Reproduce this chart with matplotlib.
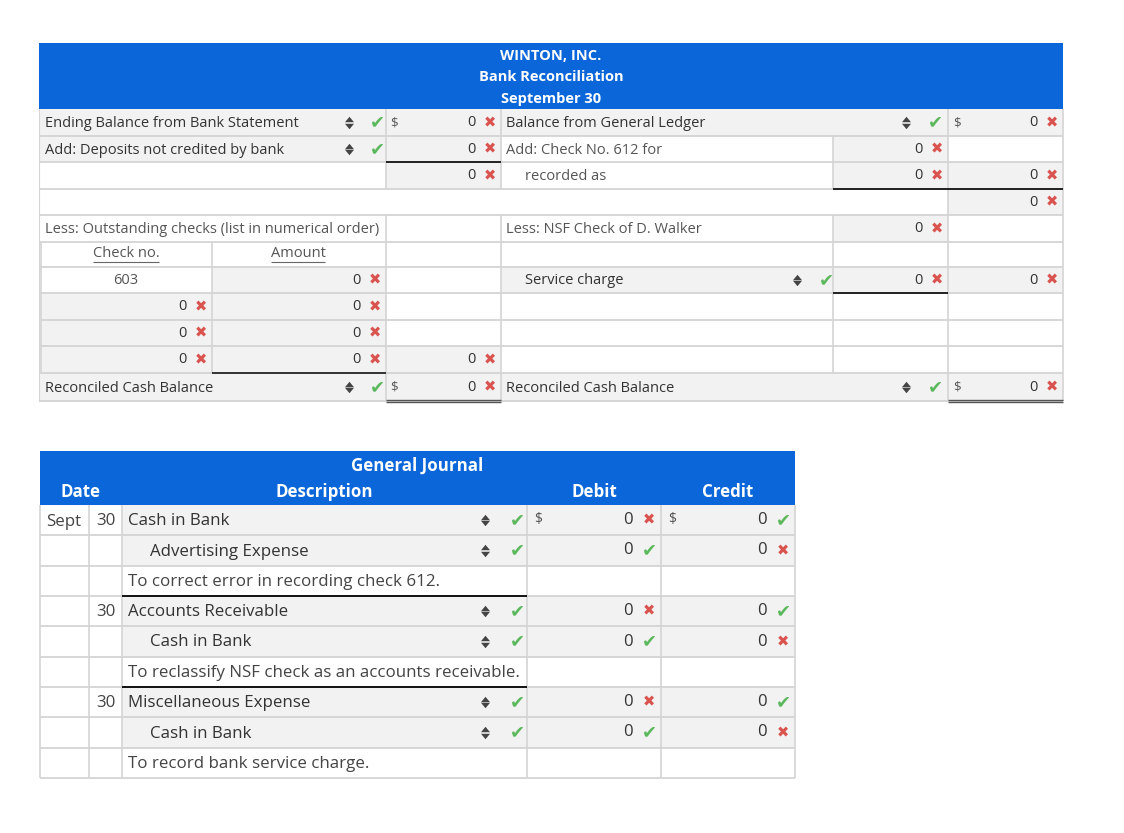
import matplotlib
matplotlib.use("Agg")
import matplotlib.pyplot as plt
from matplotlib.patches import Rectangle

plt.rcParams['font.family'] = ['Open Sans', 'DejaVu Sans']

BLUE = '#0a66d9'
GRAY = '#f2f2f2'
LINE = '#d4d4d4'
TEXT = '#333333'
GREEN = '#5cb85c'
RED = '#d9534f'

# ---- bank reconciliation content (one entry per row) ----
TITLE_LINES = ['WINTON, INC.', 'Bank Reconciliation', 'September 30']
LEFT_LABELS = ['Ending Balance from Bank Statement', 'Add: Deposits not credited by bank', '', '',
               'Less: Outstanding checks (list in numerical order)', '', '', '', '', '',
               'Reconciled Cash Balance']
LEFT_DROPDOWN = [True, True, False, False, False, False, False, False, False, False, True]
CHECK_NOS = [None, None, None, None, None, None, '603', 0, 0, 0, None]
AMOUNTS = [None, None, None, None, None, None, 0, 0, 0, 0, None]
LEFT_TOTALS = [0, 0, 0, None, None, None, None, None, None, 0, 0]
LEFT_DOLLAR = [True, False, False, False, False, False, False, False, False, False, True]
RIGHT_LABELS = ['Balance from General Ledger', 'Add: Check No. 612 for', 'recorded as', '',
                'Less: NSF Check of D. Walker', '', 'Service charge', '', '', '',
                'Reconciled Cash Balance']
RIGHT_INDENT = [False, False, True, False, False, False, True, False, False, False, False]
RIGHT_DROPDOWN = [True, False, False, False, False, False, True, False, False, False, True]
RIGHT_SUB = [None, 0, 0, None, 0, None, 0, None, None, None, None]
RIGHT_TOTALS = [0, None, 0, 0, None, None, 0, None, None, None, 0]
RIGHT_DOLLAR = [True, False, False, False, False, False, False, False, False, False, True]

# ---- general journal content ----
JOURNAL_TITLE = 'General Journal'
JOURNAL_HEADS = ['Date', 'Description', 'Debit', 'Credit']
J_MONTH = ['Sept', '', '', '', '', '', '', '', '']
J_DAY = ['30', '', '', '30', '', '', '30', '', '']
J_DESC = ['Cash in Bank', 'Advertising Expense', 'To correct error in recording check 612.',
          'Accounts Receivable', 'Cash in Bank', 'To reclassify NSF check as an accounts receivable.',
          'Miscellaneous Expense', 'Cash in Bank', 'To record bank service charge.']
J_INDENT = [False, True, False, False, True, False, False, True, False]
J_DEBIT = [0, 0, None, 0, 0, None, 0, 0, None]
J_DEBIT_OK = [False, True, None, False, True, None, False, True, None]
J_CREDIT = [0, 0, None, 0, 0, None, 0, 0, None]
J_CREDIT_OK = [True, False, None, True, False, None, True, False, None]

# ---- layout in pixels ----
TOP_Y = [109, 136, 162, 189, 215, 242, 267, 293, 320, 346, 373, 401]
X0, X_CHK, X1, X2, X3, X4, X5 = 39, 211.5, 385.5, 501, 833, 948, 1063
J_Y = [505, 535, 566, 596, 626, 657, 687, 717, 748, 778]
JX = [40, 89, 122, 527, 661, 795]
TOP_SIZE = 10.5
J_SIZE = 12.2
# flattened triangles for the dropdown arrows
ARROW_UP = [(-1, -0.6), (1, -0.6), (0, 0.6)]
ARROW_DOWN = [(-1, 0.6), (1, 0.6), (0, -0.6)]

fig = plt.figure(figsize=(11.24, 8.33), dpi=100)
ax = fig.add_axes([0, 0, 1, 1])
ax.set_xlim(0, 1124)
ax.set_ylim(833, 0)
ax.axis('off')


def fill(x0, x1, y0, y1, color=GRAY):
    ax.add_patch(Rectangle((x0, y0), x1 - x0, y1 - y0, facecolor=color, edgecolor='none', zorder=1))


def hline(x0, x1, y, color=LINE, lw=1.3):
    ax.plot([x0, x1], [y, y], color=color, lw=lw, zorder=2, solid_capstyle='butt')


def vline(x, y0, y1, color=LINE, lw=1.2):
    ax.plot([x, x], [y0, y1], color=color, lw=lw, zorder=2, solid_capstyle='butt')


def label(x, y, s, size=TOP_SIZE, color=TEXT, ha='left', **kw):
    return ax.text(x, y, s, fontsize=size, color=color, ha=ha, va='center', zorder=4, **kw)


def mark(x, y, ok):
    ax.text(x, y, '\u2714' if ok else '\u2716', color=GREEN if ok else RED, fontsize=13 if ok else 10.5,
            ha='center', va='center', zorder=4, family='DejaVu Sans')


def dropdown(x, y):
    ax.plot([x], [y - 3.2], marker=ARROW_UP, ms=6.5, color='#444444', mew=0, zorder=4)
    ax.plot([x], [y + 3.2], marker=ARROW_DOWN, ms=6.5, color='#444444', mew=0, zorder=4)


def amount(right, y, value, ok=False):
    label(right - 25, y, str(value), ha='right')
    mark(right - 11, y, ok)


# ---- top table ----
fill(X0, X5, 43, TOP_Y[0], BLUE)
for s, y in zip(TITLE_LINES, [56, 77, 99]):
    label(551, y, s, size=10.5, color='white', ha='center', fontweight='bold')

rows = range(len(TOP_Y) - 1)
shaded = {0: [(X0, X5)], 1: [(X0, X2), (X3, X4)], 2: [(X1, X2), (X3, X5)], 3: [(X4, X5)], 4: [(X3, X4)],
          6: [(X_CHK, X1), (X2, X5)], 7: [(X0, X1)], 8: [(X0, X1)], 9: [(X0, X2)], 10: [(X0, X5)]}
for r, spans in shaded.items():
    for a, b in spans:
        fill(a, b, TOP_Y[r], TOP_Y[r + 1])

for y in TOP_Y[1:]:
    hline(X0, X5, y)
vline(X0, TOP_Y[0], TOP_Y[-1], lw=0.8)
vline(X5, TOP_Y[0], TOP_Y[-1])
vline(X1, TOP_Y[0], TOP_Y[3])
vline(X1, TOP_Y[4], TOP_Y[-1])
vline(X2, TOP_Y[0], TOP_Y[3])
vline(X2, TOP_Y[4], TOP_Y[-1])
vline(X3, TOP_Y[1], TOP_Y[3])
vline(X3, TOP_Y[4], TOP_Y[10])
vline(X4, TOP_Y[0], TOP_Y[3])
vline(X4, TOP_Y[3], TOP_Y[-1])
vline(X_CHK, TOP_Y[5], TOP_Y[10])
vline(41, TOP_Y[5], TOP_Y[10])

for r in rows:
    yc = (TOP_Y[r] + TOP_Y[r + 1]) / 2
    if LEFT_LABELS[r]:
        label(45, yc + 1, LEFT_LABELS[r], color='#555555' if r == 4 else TEXT)
    if LEFT_DROPDOWN[r]:
        dropdown(349, yc)
        mark(377, yc, True)
    if LEFT_DOLLAR[r]:
        label(390, yc, '$', size=9.5, color='#555555')
    if CHECK_NOS[r] == '603':
        label(126, yc + 1, CHECK_NOS[r], ha='center', color='#555555')
    elif CHECK_NOS[r] is not None:
        amount(X_CHK, yc, CHECK_NOS[r])
    if AMOUNTS[r] is not None:
        amount(X1, yc, AMOUNTS[r])
    if LEFT_TOTALS[r] is not None:
        amount(X2, yc, LEFT_TOTALS[r])
    if RIGHT_LABELS[r]:
        gray_text = r in (1, 2, 4)
        x_text = 525 if RIGHT_INDENT[r] else 506.5
        label(x_text, yc + 1, RIGHT_LABELS[r], color='#555555' if gray_text else TEXT)
    if RIGHT_DROPDOWN[r]:
        dropx = 797 if r == 6 else 906
        dropdown(dropx, yc)
        mark(826 if r == 6 else 935, yc, True)
    if RIGHT_DOLLAR[r]:
        label(953, yc, '$', size=9.5, color='#555555')
    if RIGHT_SUB[r] is not None:
        amount(X4, yc, RIGHT_SUB[r])
    if RIGHT_TOTALS[r] is not None:
        amount(X5, yc, RIGHT_TOTALS[r])

# column captions inside the check list, underlined by hand
yc = (TOP_Y[5] + TOP_Y[6]) / 2
fig.canvas.draw()
renderer = fig.canvas.get_renderer()
for cx, s in [(126, 'Check no.'), (298, 'Amount')]:
    t = label(cx, yc - 1, s, color='#555555', ha='center')
    box = t.get_window_extent(renderer)
    hline(box.x0, box.x1, yc + 7.5, color='#666666', lw=0.8)

# dark rules under subtotals
hline(X1, X2, TOP_Y[2] - 0.2, color='#222222', lw=1.4)
hline(X3, X4, TOP_Y[3], color='#222222', lw=1.4)
hline(X4, X5, TOP_Y[3], color='#222222', lw=1.4)
hline(X3, X4, TOP_Y[7], color='#222222', lw=1.4)
hline(X_CHK, X1, TOP_Y[10], color='#333333', lw=1.4)
for a, b in [(X1, X2), (X4, X5)]:
    hline(a, b, TOP_Y[11] - 1.5, color='#555555', lw=1)
    hline(a, b, TOP_Y[11] + 1, color='#555555', lw=1)

# ---- journal ----
fill(JX[0], JX[5], 451, J_Y[0], BLUE)
label(417, 466, JOURNAL_TITLE, size=J_SIZE, color='white', ha='center', fontweight='bold')
for cx, s in zip([81, 324, 594, 728], JOURNAL_HEADS):
    label(cx, 492, s, size=J_SIZE, color='white', ha='center', fontweight='bold')

for r in range(len(J_DESC)):
    y0, y1 = J_Y[r], J_Y[r + 1]
    yc = (y0 + y1) / 2
    is_entry = J_DEBIT[r] is not None
    if is_entry:
        fill(JX[2], JX[5], y0, y1)
    if J_MONTH[r]:
        label(64, yc + 2, J_MONTH[r], size=J_SIZE, ha='center', color='#444444')
    if J_DAY[r]:
        label(105.5, yc + 1, J_DAY[r], size=J_SIZE, ha='center', color='#444444')
    x_text = 150 if J_INDENT[r] else 128
    label(x_text, yc + 1, J_DESC[r], size=J_SIZE, color=TEXT if is_entry else '#444444')
    if is_entry:
        dropdown(485, yc)
        mark(517, yc, True)
        if r == 0:
            label(JX[3] + 7, yc, '$', size=10, color='#555555')
            label(JX[4] + 7, yc, '$', size=10, color='#555555')
        label(JX[4] - 28, yc, str(J_DEBIT[r]), size=12, ha='right')
        mark(JX[4] - 12, yc, J_DEBIT_OK[r])
        label(JX[5] - 28, yc, str(J_CREDIT[r]), size=12, ha='right')
        mark(JX[5] - 12, yc, J_CREDIT_OK[r])

for y in J_Y[1:]:
    hline(JX[0], JX[5], y)
for x in JX:
    vline(x, J_Y[0], J_Y[-1])
hline(JX[2], JX[3], J_Y[3] - 0.5, color='#111111', lw=1.4)
hline(JX[2], JX[3], J_Y[6] - 0.5, color='#111111', lw=1.4)

fig.savefig('out.png', dpi=100, facecolor='white')
